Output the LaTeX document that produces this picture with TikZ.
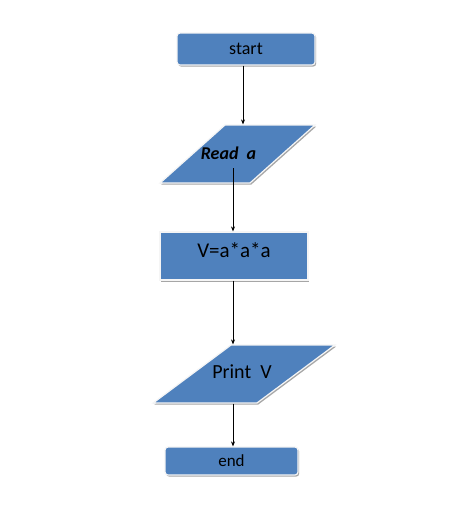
\documentclass[tikz,border=0pt]{standalone}
\usepackage{fontspec}
\setmainfont{Carlito}
\usetikzlibrary{shapes.geometric,shadows,arrows.meta}
\definecolor{boxblue}{HTML}{4F81BD}
\tikzset{
  box/.style={draw=white!92!gray, line width=1.2pt, fill=boxblue, inner sep=0pt,
    drop shadow={shadow xshift=1.2pt, shadow yshift=-1.6pt, fill=black!35, opacity=1}},
  io/.style={box, trapezium, trapezium stretches=true, inner sep=2pt},
  arr/.style={-{Stealth[length=5pt,width=4pt]}, line width=0.8pt, black},
  lbl/.style={text=black, inner sep=0pt}
}
\begin{document}
\begin{tikzpicture}[x=1pt,y=-1pt]
\useasboundingbox[fill=white] (0,0) rectangle (471,531);
\node[box, rounded corners=3pt, minimum width=138pt, minimum height=32pt,
  label={[lbl,font=\fontsize{18}{20}\selectfont]center:start}] (start) at (246,49) {};
\node[io, trapezium left angle=57, trapezium right angle=123, minimum width=155pt, minimum height=58pt,
  label={[lbl,xshift=-9pt,yshift=1pt,font=\fontsize{18}{20}\selectfont\bfseries\itshape]center:Read\ \ a}] (read) at (237.5,154) {\strut};
\node[box, minimum width=148pt, minimum height=48pt,
  label={[lbl,yshift=6pt,font=\fontsize{21}{24}\selectfont]center:V=a*a*a}] (calc) at (234,256) {};
\node[io, trapezium left angle=53, trapezium right angle=127, minimum width=182pt, minimum height=58pt,
  label={[lbl,xshift=-2pt,yshift=2pt,font=\fontsize{20}{23}\selectfont]center:Print\ \ V}] (print) at (244,374) {\strut};
\node[box, rounded corners=3pt, minimum width=133pt, minimum height=28pt,
  label={[lbl,font=\fontsize{17}{20}\selectfont]center:end}] (end) at (231.5,461) {};
\coordinate (x1) at (243,0);
\coordinate (x2) at (233,0);
\coordinate (rs) at (233,168);
\draw[arr] (start.south -| x1) -- (read.north -| x1);
\draw[arr] (rs) -- (calc.north -| rs);
\draw[arr] (calc.south -| x2) -- (print.north -| x2);
\draw[arr] (print.south -| x2) -- (end.north -| x2);
\end{tikzpicture}
\end{document}
